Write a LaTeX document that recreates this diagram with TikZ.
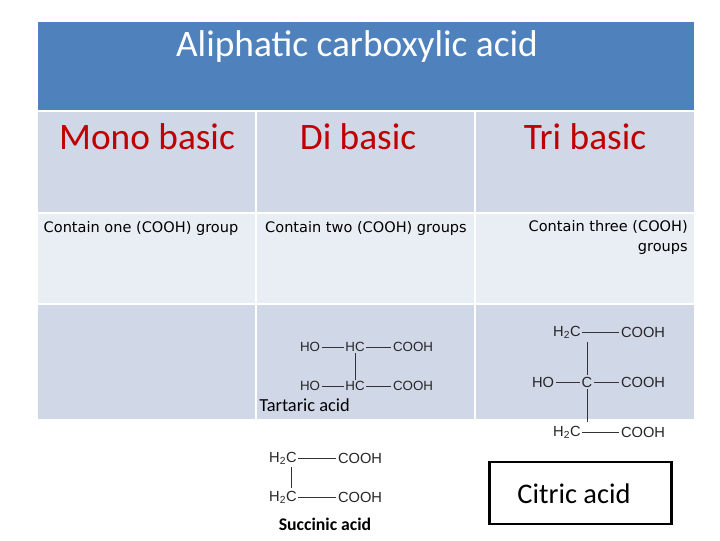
\documentclass[tikz,border=0pt]{standalone}
\usepackage{fontspec}
\setmainfont{Carlito}
\newfontfamily\chemf{Liberation Sans}
\newfontfamily\smallf{DejaVu Sans}
\definecolor{hdr}{HTML}{4F81BD}
\definecolor{rowa}{HTML}{D0D8E8}
\definecolor{rowb}{HTML}{E9EDF4}
\definecolor{redt}{HTML}{C00000}
\begin{document}
\begin{tikzpicture}[x=0.75pt,y=-0.75pt,
  head/.style={font=\fontsize{28}{30}\selectfont,text=redt},
  small/.style={font=\smallf\fontsize{10.9}{15.5}\selectfont},
  chem/.style={font=\chemf\fontsize{10}{12}\selectfont,text=black!85,inner sep=1pt},
  chemb/.style={font=\chemf\fontsize{11}{12}\selectfont,text=black!85,inner sep=1pt},
  bond/.style={black!80,line width=0.6pt}]
\useasboundingbox (0,0) rectangle (720,540);
\fill[white] (0,0) rectangle (720,540);
\fill[hdr] (38,22) rectangle (694,110);
\foreach \a/\b in {38/255,257/474,476/694}{
  \fill[rowa] (\a,112) rectangle (\b,212);
  \fill[rowb] (\a,214) rectangle (\b,303);
  \fill[rowa] (\a,305) rectangle (\b,419);
}
\node[text=white,font=\fontsize{28}{30}\selectfont] (title) at (357,47) {Aliphatic carboxylic acid};
\node[head] (mono) at (147,137) {Mono basic};
\node[head] (di) at (358,137) {Di basic};
\node[head] (tri) at (585,137) {Tri basic};
\node[small] (c1) at (141,228) {Contain one (COOH) group};
\node[small] (c2) at (366,228) {Contain two (COOH) groups};
\node[small,align=right,anchor=north east,inner sep=0pt] (c3) at (688,220) {Contain three (COOH)\\groups};
% tartaric
\node[chem] (t1) at (310,347) {HO};
\node[chem] (t2) at (355,347) {HC};
\node[chem] (t3) at (413,347) {COOH};
\node[chem] (t4) at (310,386) {HO};
\node[chem] (t5) at (355,386) {HC};
\node[chem] (t6) at (413,386) {COOH};
\draw[bond] (t1) -- (t2); \draw[bond] (t2) -- (t3);
\draw[bond] (t4) -- (t5); \draw[bond] (t5) -- (t6);
\draw[bond] (t2) -- (t5);
\node[anchor=west,inner sep=0pt,font=\fontsize{13.8}{14}\selectfont] (tl) at (259,405) {Tartaric acid};
% citric
\node[chemb] (k1) at (567,332) {H\textsubscript{2}C};
\node[chemb] (k2) at (643,332) {COOH};
\node[chemb] (k3) at (543,382) {HO};
\node[chemb] (k4) at (587,382) {C};
\node[chemb] (k5) at (643,382) {COOH};
\node[chemb] (k6) at (567,432) {H\textsubscript{2}C};
\node[chemb] (k7) at (643,432) {COOH};
\draw[bond] (k1) -- (k2); \draw[bond] (k3) -- (k4); \draw[bond] (k4) -- (k5); \draw[bond] (k6) -- (k7);
\draw[bond] (587,342) -- (k4); \draw[bond] (k4) -- (587,422);
% succinic
\node[chemb] (s1) at (283,458) {H\textsubscript{2}C};
\node[chemb] (s2) at (360,458) {COOH};
\node[chemb] (s3) at (283,497) {H\textsubscript{2}C};
\node[chemb] (s4) at (360,497) {COOH};
\draw[bond] (s1) -- (s2); \draw[bond] (s3) -- (s4);
\draw[bond] (291,467) -- (291,488);
\node[font=\bfseries\fontsize{13.3}{14}\selectfont] (sl) at (325,524) {Succinic acid};
\node[draw=black,line width=1.6pt,minimum width=136.5pt,minimum height=46.5pt,inner sep=0pt] (cbox) at (580.5,493) {};
\node[font=\fontsize{21.3}{22}\selectfont] (cl) at (574,494) {Citric acid};
\end{tikzpicture}
\end{document}
